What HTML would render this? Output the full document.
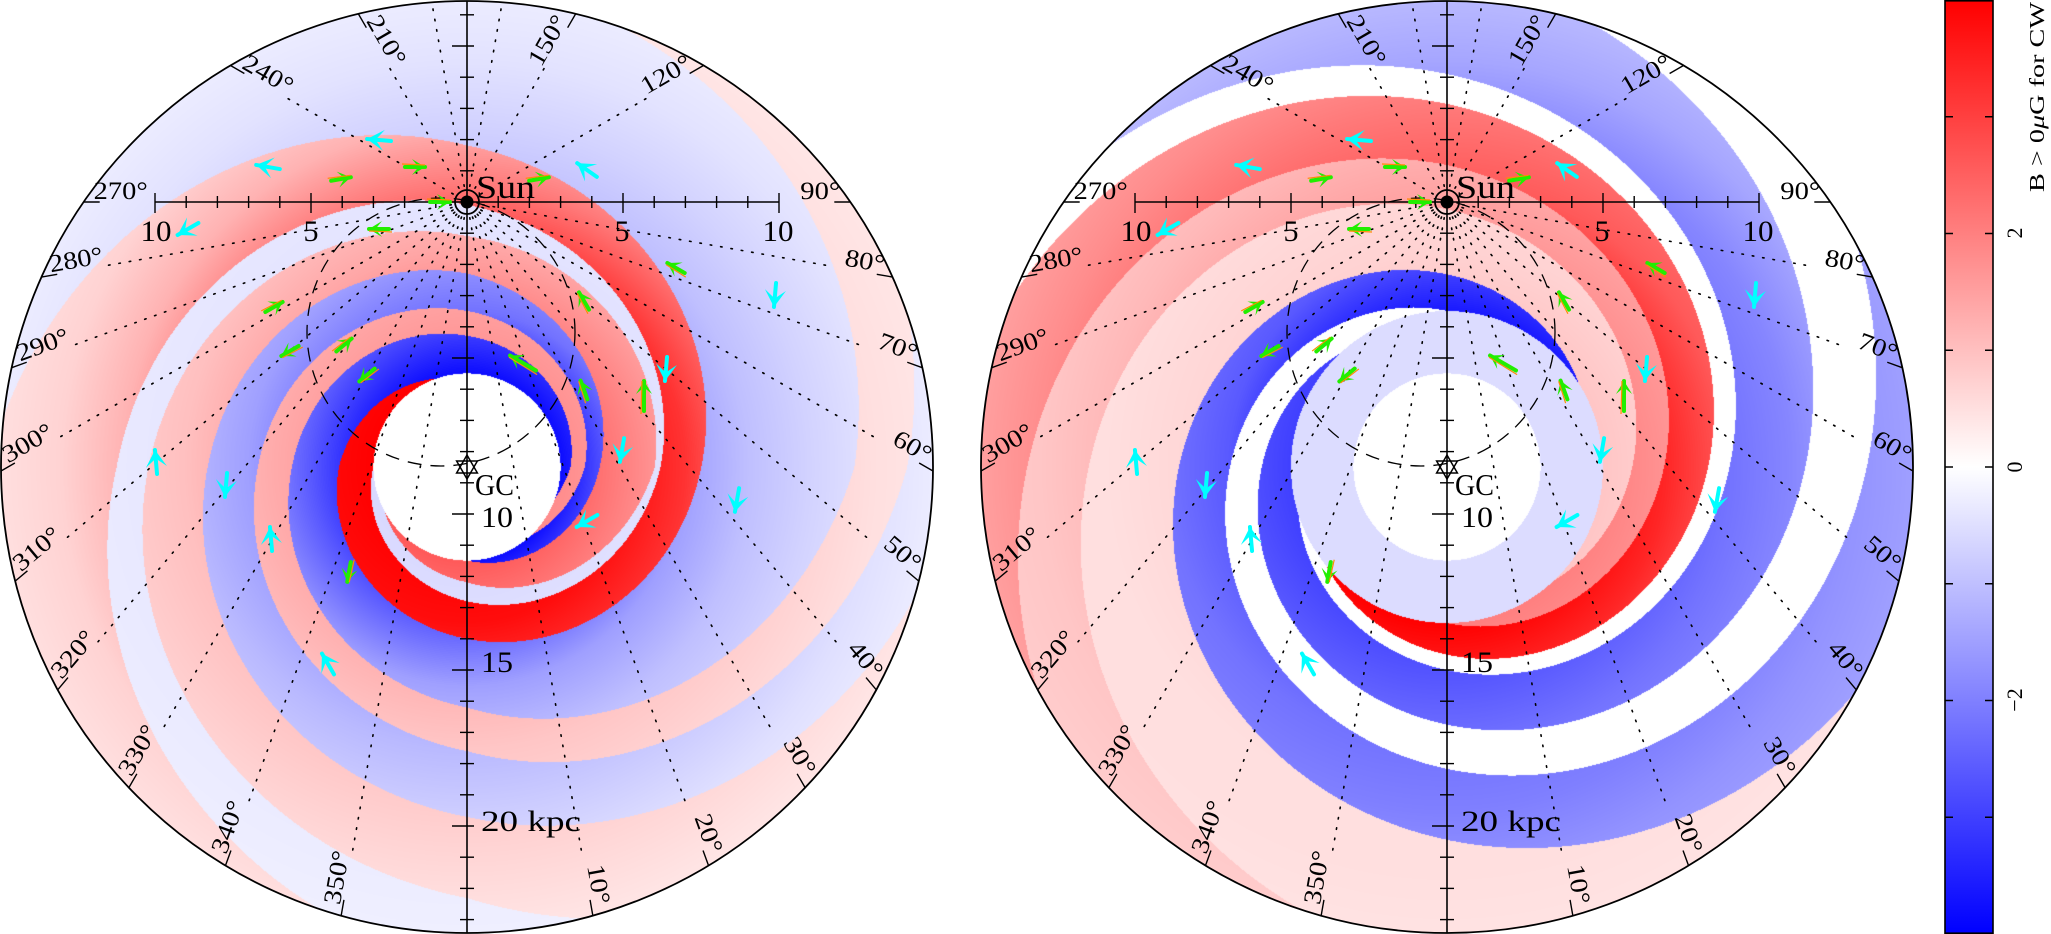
<!DOCTYPE html>
<html><head><meta charset="utf-8"><style>
html,body{margin:0;padding:0;background:#fff;width:2051px;height:934px;overflow:hidden}
#c{position:absolute;left:0;top:0}
svg{position:absolute;left:0;top:0}
text{font-family:"Liberation Serif","DejaVu Serif",serif;fill:#000}
.d{font-size:25px}
.n{font-size:30px}
</style></head><body>
<canvas id="c" width="2051" height="934"></canvas>
<svg id="s" width="2051" height="934" viewBox="0 0 2051 934">
<defs><linearGradient id="cb" x1="0" y1="0" x2="0" y2="1">
<stop offset="0" stop-color="#ff0000"/><stop offset="0.25" stop-color="#ff8080"/><stop offset="0.5" stop-color="#ffffff"/><stop offset="0.75" stop-color="#8080ff"/><stop offset="1" stop-color="#0000ff"/></linearGradient></defs>
<g id="ov"></g>
<g id="T1">
<text class="d" x="591.1" y="905.9" dy="-3" transform="rotate(80 591.1 905.9)" text-anchor="end" textLength="40" lengthAdjust="spacingAndGlyphs">10°</text>
<text class="d" x="705.1" y="856.1" dy="-3" transform="rotate(70 705.1 856.1)" text-anchor="end" textLength="40" lengthAdjust="spacingAndGlyphs">20°</text>
<text class="d" x="800.2" y="779" dy="-3" transform="rotate(60 800.2 779)" text-anchor="end" textLength="40" lengthAdjust="spacingAndGlyphs">30°</text>
<text class="d" x="869.9" y="682" dy="-3" transform="rotate(50 869.9 682)" text-anchor="end" textLength="40" lengthAdjust="spacingAndGlyphs">40°</text>
<text class="d" x="911" y="574.7" dy="-3" transform="rotate(40 911 574.7)" text-anchor="end" textLength="40" lengthAdjust="spacingAndGlyphs">50°</text>
<text class="d" x="924.3" y="466.1" dy="-3" transform="rotate(30 924.3 466.1)" text-anchor="end" textLength="40" lengthAdjust="spacingAndGlyphs">60°</text>
<text class="d" x="912.9" y="364.3" dy="-3" transform="rotate(20 912.9 364.3)" text-anchor="end" textLength="40" lengthAdjust="spacingAndGlyphs">70°</text>
<text class="d" x="882.7" y="275.3" dy="-3" transform="rotate(10 882.7 275.3)" text-anchor="end" textLength="40" lengthAdjust="spacingAndGlyphs">80°</text>
<text class="d" x="840.3" y="202" dy="-3" text-anchor="end" textLength="40" lengthAdjust="spacingAndGlyphs">90°</text>
<text class="d" x="694.8" y="70.4" dy="-3" transform="rotate(-30 694.8 70.4)" text-anchor="end" textLength="54" lengthAdjust="spacingAndGlyphs">120°</text>
<text class="d" x="570.7" y="22.5" dy="-3" transform="rotate(-60 570.7 22.5)" text-anchor="end" textLength="54" lengthAdjust="spacingAndGlyphs">150°</text>
<text class="d" x="363.3" y="22.5" dy="-3" transform="rotate(60 363.3 22.5)" textLength="54" lengthAdjust="spacingAndGlyphs">210°</text>
<text class="d" x="239.2" y="70.4" dy="-3" transform="rotate(30 239.2 70.4)" textLength="54" lengthAdjust="spacingAndGlyphs">240°</text>
<text class="d" x="93.7" y="202" dy="-3" textLength="54" lengthAdjust="spacingAndGlyphs">270°</text>
<text class="d" x="51.3" y="275.3" dy="-3" transform="rotate(-10 51.3 275.3)" textLength="54" lengthAdjust="spacingAndGlyphs">280°</text>
<text class="d" x="21.1" y="364.3" dy="-3" transform="rotate(-20 21.1 364.3)" textLength="54" lengthAdjust="spacingAndGlyphs">290°</text>
<text class="d" x="9.7" y="466.1" dy="-3" transform="rotate(-30 9.7 466.1)" textLength="54" lengthAdjust="spacingAndGlyphs">300°</text>
<text class="d" x="23" y="574.7" dy="-3" transform="rotate(-40 23 574.7)" textLength="54" lengthAdjust="spacingAndGlyphs">310°</text>
<text class="d" x="64.1" y="682" dy="-3" transform="rotate(-50 64.1 682)" textLength="54" lengthAdjust="spacingAndGlyphs">320°</text>
<text class="d" x="133.8" y="779" dy="-3" transform="rotate(-60 133.8 779)" textLength="54" lengthAdjust="spacingAndGlyphs">330°</text>
<text class="d" x="228.9" y="856.1" dy="-3" transform="rotate(-70 228.9 856.1)" textLength="54" lengthAdjust="spacingAndGlyphs">340°</text>
<text class="d" x="342.9" y="905.9" dy="-3" transform="rotate(-80 342.9 905.9)" textLength="54" lengthAdjust="spacingAndGlyphs">350°</text>
<text class="n" x="156" y="241" text-anchor="middle" textLength="31" lengthAdjust="spacingAndGlyphs">10</text>
<text class="n" x="311" y="241" text-anchor="middle">5</text>
<text class="n" x="622" y="241" text-anchor="middle">5</text>
<text class="n" x="778" y="241" text-anchor="middle" textLength="31" lengthAdjust="spacingAndGlyphs">10</text>
<text class="n" x="481" y="527" textLength="32" lengthAdjust="spacingAndGlyphs">10</text>
<text class="n" x="481" y="672" textLength="32" lengthAdjust="spacingAndGlyphs">15</text>
<text class="n" x="481" y="831" textLength="100" lengthAdjust="spacingAndGlyphs">20 kpc</text>
<text x="476" y="198" font-size="33" textLength="59" lengthAdjust="spacingAndGlyphs">Sun</text>
<text x="475" y="495" font-size="31" textLength="39" lengthAdjust="spacingAndGlyphs">GC</text>
</g>
<g transform="translate(980,0)">
<text class="d" x="591.1" y="905.9" dy="-3" transform="rotate(80 591.1 905.9)" text-anchor="end" textLength="40" lengthAdjust="spacingAndGlyphs">10°</text>
<text class="d" x="705.1" y="856.1" dy="-3" transform="rotate(70 705.1 856.1)" text-anchor="end" textLength="40" lengthAdjust="spacingAndGlyphs">20°</text>
<text class="d" x="800.2" y="779" dy="-3" transform="rotate(60 800.2 779)" text-anchor="end" textLength="40" lengthAdjust="spacingAndGlyphs">30°</text>
<text class="d" x="869.9" y="682" dy="-3" transform="rotate(50 869.9 682)" text-anchor="end" textLength="40" lengthAdjust="spacingAndGlyphs">40°</text>
<text class="d" x="911" y="574.7" dy="-3" transform="rotate(40 911 574.7)" text-anchor="end" textLength="40" lengthAdjust="spacingAndGlyphs">50°</text>
<text class="d" x="924.3" y="466.1" dy="-3" transform="rotate(30 924.3 466.1)" text-anchor="end" textLength="40" lengthAdjust="spacingAndGlyphs">60°</text>
<text class="d" x="912.9" y="364.3" dy="-3" transform="rotate(20 912.9 364.3)" text-anchor="end" textLength="40" lengthAdjust="spacingAndGlyphs">70°</text>
<text class="d" x="882.7" y="275.3" dy="-3" transform="rotate(10 882.7 275.3)" text-anchor="end" textLength="40" lengthAdjust="spacingAndGlyphs">80°</text>
<text class="d" x="840.3" y="202" dy="-3" text-anchor="end" textLength="40" lengthAdjust="spacingAndGlyphs">90°</text>
<text class="d" x="694.8" y="70.4" dy="-3" transform="rotate(-30 694.8 70.4)" text-anchor="end" textLength="54" lengthAdjust="spacingAndGlyphs">120°</text>
<text class="d" x="570.7" y="22.5" dy="-3" transform="rotate(-60 570.7 22.5)" text-anchor="end" textLength="54" lengthAdjust="spacingAndGlyphs">150°</text>
<text class="d" x="363.3" y="22.5" dy="-3" transform="rotate(60 363.3 22.5)" textLength="54" lengthAdjust="spacingAndGlyphs">210°</text>
<text class="d" x="239.2" y="70.4" dy="-3" transform="rotate(30 239.2 70.4)" textLength="54" lengthAdjust="spacingAndGlyphs">240°</text>
<text class="d" x="93.7" y="202" dy="-3" textLength="54" lengthAdjust="spacingAndGlyphs">270°</text>
<text class="d" x="51.3" y="275.3" dy="-3" transform="rotate(-10 51.3 275.3)" textLength="54" lengthAdjust="spacingAndGlyphs">280°</text>
<text class="d" x="21.1" y="364.3" dy="-3" transform="rotate(-20 21.1 364.3)" textLength="54" lengthAdjust="spacingAndGlyphs">290°</text>
<text class="d" x="9.7" y="466.1" dy="-3" transform="rotate(-30 9.7 466.1)" textLength="54" lengthAdjust="spacingAndGlyphs">300°</text>
<text class="d" x="23" y="574.7" dy="-3" transform="rotate(-40 23 574.7)" textLength="54" lengthAdjust="spacingAndGlyphs">310°</text>
<text class="d" x="64.1" y="682" dy="-3" transform="rotate(-50 64.1 682)" textLength="54" lengthAdjust="spacingAndGlyphs">320°</text>
<text class="d" x="133.8" y="779" dy="-3" transform="rotate(-60 133.8 779)" textLength="54" lengthAdjust="spacingAndGlyphs">330°</text>
<text class="d" x="228.9" y="856.1" dy="-3" transform="rotate(-70 228.9 856.1)" textLength="54" lengthAdjust="spacingAndGlyphs">340°</text>
<text class="d" x="342.9" y="905.9" dy="-3" transform="rotate(-80 342.9 905.9)" textLength="54" lengthAdjust="spacingAndGlyphs">350°</text>
<text class="n" x="156" y="241" text-anchor="middle" textLength="31" lengthAdjust="spacingAndGlyphs">10</text>
<text class="n" x="311" y="241" text-anchor="middle">5</text>
<text class="n" x="622" y="241" text-anchor="middle">5</text>
<text class="n" x="778" y="241" text-anchor="middle" textLength="31" lengthAdjust="spacingAndGlyphs">10</text>
<text class="n" x="481" y="527" textLength="32" lengthAdjust="spacingAndGlyphs">10</text>
<text class="n" x="481" y="672" textLength="32" lengthAdjust="spacingAndGlyphs">15</text>
<text class="n" x="481" y="831" textLength="100" lengthAdjust="spacingAndGlyphs">20 kpc</text>
<text x="476" y="198" font-size="33" textLength="59" lengthAdjust="spacingAndGlyphs">Sun</text>
<text x="475" y="495" font-size="31" textLength="39" lengthAdjust="spacingAndGlyphs">GC</text>
</g>
<rect x="1945" y="0.8" width="48" height="932.4" fill="url(#cb)" stroke="#000" stroke-width="1.6"/>
<g id="cbt" stroke="#000" stroke-width="1.5"></g>
<text x="2022" y="233" font-size="22" text-anchor="middle" transform="rotate(-90 2022 233)">2</text>
<text x="2022" y="467" font-size="22" text-anchor="middle" transform="rotate(-90 2022 467)">0</text>
<text x="2022" y="700" font-size="22" text-anchor="middle" transform="rotate(-90 2022 700)">−2</text>
<text x="2044" y="192" font-size="21" transform="rotate(-90 2044 192)" textLength="190" lengthAdjust="spacingAndGlyphs">B &gt; 0<tspan font-style="italic">μ</tspan>G for CW</text>
</svg>
<script>
(function(){
var W=2051,H=934,cv=document.getElementById('c'),ctx=cv.getContext('2d');
var img=ctx.createImageData(W,H),d=img.data;
for(var i=0;i<d.length;i++)d[i]=255;
var K=0.21,P=2*Math.PI*K,S=31.2,R=466;
function tb(a,r){var i=(r-3)/2;if(i<=0)return a[0];if(i>=6)return a[6];var k=Math.floor(i),f=i-k;return a[k]*(1-f)+a[k+1]*f;}
var LS=[[.333,.570,.807,.942,1.105,1.261],[.363,.518,.838,.970,1.133,1.267],[.383,.528,.909,1.006,1.097,1.36],[.356,.543,.798,.924,1.082,1.240],[.333,.570,.807,.942,1.105,1.261]];
var LA=[[4,3.8,3.2,2.1,1.2,.7,.5],[-3.8,-2.6,-1.5,-1,-.7,-.45,-.3],[1.8,1.5,1.2,.9,.7,.5,.4],[-3.8,-2.2,-1.5,-1.1,-.8,-.5,-.3],[2.6,2,1.4,1,.8,.6,.4],[-.6,-.5,-.45,-.4,-.35,-.3,-.25]];
var RSt=[.47,.61,.67,.85,.97,1.13,1.35];
var RA=[[4,4,3.4,2.6,2.2,1.8,1.5],[0,0,0,0,0,0,0],[-3,-3,-2.6,-2.2,-1.9,-1.4,-1.1],[0,0,0,0,0,0,0],[-3.6,-3.6,-2.6,-2.2,-2,-1.7,-1.5],[.9,.9,.7,.6,.5,.5,.45],[2,2,1.7,1.4,1.1,.9,.8]];
function startsL(th){var u=(th+Math.PI)/(Math.PI/2);var k=Math.min(3,Math.floor(u)),f=u-k;var a=LS[k],b=LS[k+1],o=[];for(var j=0;j<6;j++)o.push(a[j]*(1-f)+b[j]*f);return o;}
function val(type,dx,dy){
 var r=Math.sqrt(dx*dx+dy*dy)/S;if(r<3)return null;
 if(type==1&&r<5)return -0.55;
 var th=Math.atan2(dy,dx),u=(Math.log(r)+K*th)/P;
 var st=type==0?startsL(th):RSt,am=type==0?LA:RA;
 var t=u-Math.floor(u-st[0]),j=0;
 for(var m=1;m<st.length;m++)if(t>=st[m])j=m;
 return tb(am[j],r);
}
[[467,0],[1447,1]].forEach(function(p){
 var cx=p[0],cy=467,type=p[1];
 for(var y=0;y<H;y++){var dy=y+.5-cy;if(Math.abs(dy)>R)continue;var hw=Math.sqrt(R*R-dy*dy);
  for(var x=Math.max(0,Math.floor(cx-hw));x<=Math.min(W-1,Math.ceil(cx+hw));x++){
   var dx=x+.5-cx;if(dx*dx+dy*dy>R*R)continue;
   var v=val(type,dx,dy);if(v===null||v===0)continue;
   var a=Math.min(Math.abs(v)/4,1),c=Math.round(255*(1-a)),q=(y*W+x)*4;
   if(v>0){d[q]=255;d[q+1]=c;d[q+2]=c;}else{d[q]=c;d[q+1]=c;d[q+2]=255;}
  }}
});
ctx.putImageData(img,0,0);

var NS='http://www.w3.org/2000/svg',ov=document.getElementById('ov');
function el(n,at,par){var e=document.createElementNS(NS,n);for(var k in at)e.setAttribute(k,at[k]);(par||ov).appendChild(e);return e;}
function ln(x1,y1,x2,y2,w,extra,par){var a={x1:x1,y1:y1,x2:x2,y2:y2,stroke:'#000','stroke-width':w||1.5};for(var k in extra)a[k]=extra[k];return el('line',a,par);}
function arrow(x,y,ang,col,len,ov2,hs){
 var a=ang*Math.PI/180,c=Math.cos(a),s=Math.sin(a),L=len||22;
 var tx=x+c*L/2,ty=y+s*L/2,bx=x-c*L/2,by=y-s*L/2;
 ln(bx,by,tx,ty,4,{stroke:col,'stroke-linecap':'round'});
 var h=hs||14,w=h*0.62;
 el('polygon',{points:tx+','+ty+' '+(tx-c*h-s*w)+','+(ty-s*h+c*w)+' '+(tx-c*h*0.5)+','+(ty-s*h*0.5)+' '+(tx-c*h+s*w)+','+(ty-s*h-c*w),fill:col});
 if(ov2)ln(bx-c*3+s*3,by-s*3-c*3,tx+s*2,ty-c*2,1.2,{stroke:'#ff8c00'});
}
var labs=[10,20,30,40,50,60,70,80,120,150,170,190,210,240,280,290,300,310,320,330,340,350];
[467,1447].forEach(function(cx){
 var sy=202,cy=467;
 labs.forEach(function(l){
  var s=Math.sin(l*Math.PI/180),c=Math.cos(l*Math.PI/180);
  var b=265*c,t=b+Math.sqrt(b*b+146931);
  var px=cx+t*s,py=sy+t*c;
  var stop=(l==170||l==190)?t:t-62;
  ln(cx+s*16,sy+c*16,cx+stop*s,sy+stop*c,1.6,{'stroke-dasharray':'1.5 9','stroke-linecap':'round'});
  if(l!=170&&l!=190)ln(px-16*s,py-16*c,px,py,1.4);
 });
 [90,270].forEach(function(l){var s=l==90?1:-1;var px=cx+s*383.3;ln(px-16*s,sy,px,sy,1.4);});
 el('circle',{cx:cx-26,cy:332,r:134,fill:'none',stroke:'#000','stroke-width':1.3,'stroke-dasharray':'14 9'});
 ln(cx-312,sy,cx+312,sy,1.6);
 ln(cx,1,cx,933,1.6);
 for(var n=-10;n<=10;n++){if(!n)continue;var x=cx+n*31.2;var mj=(Math.abs(n)%5==0);ln(x,sy-(mj?9:6),x,sy+(mj?11:6),1.4);}
 for(var n=-6;n<=23;n++){if(!n)continue;var y=sy+n*31.2;if(y<4||y>930)continue;var mj=(n%5==0);ln(cx-(mj?15:7),y,cx+7,y,1.4);}
 el('circle',{cx:cx,cy:cy,r:R,fill:'none',stroke:'#000','stroke-width':1.8});
 el('circle',{cx:cx,cy:sy,r:12,fill:'none',stroke:'#000','stroke-width':1.8});
 el('circle',{cx:cx,cy:sy,r:6.5,fill:'#000'});
 var r=12,p1=[],p2=[];for(var k=0;k<3;k++){var a=(-90+k*120)*Math.PI/180;p1.push((cx+r*Math.cos(a))+','+(cy+r*Math.sin(a)));var b=(90+k*120)*Math.PI/180;p2.push((cx+r*Math.cos(b))+','+(cy+r*Math.sin(b)));}
 el('polygon',{points:p1.join(' '),fill:'none',stroke:'#000','stroke-width':1.5});
 el('polygon',{points:p2.join(' '),fill:'none',stroke:'#000','stroke-width':1.5});
 var o=cx-467,cy2='#00ffff',g='#22ee00';
 var cyan=[[379,140,185],[268,167,190],[587,170,215],[188,229,150],[775,295,95],[666,369,95],[622,450,100],[737,500,100],[587,521,150],[156,462,-95],[226,485,95],[271,539,-95],[328,664,-120]];
 cyan.forEach(function(a){arrow(a[0]+o,a[1],a[2],cy2,24,false,17);});
 var gr=[[415,167,0],[341,179,-10],[539,179,-10],[440,202,0],[379,229,180],[676,268,-150],[584,301,-120],[274,307,-30],[290,351,150],[344,345,-40],[367,375,140],[523,363,-150,30],[584,390,-110],[644,396,-90,30],[349,572,100]];
 gr.forEach(function(a){arrow(a[0]+o,a[1],a[2],g,a[3]||20,true,13);});
});
var cb=document.getElementById('cbt');
for(var v=-3;v<=3;v++){var y=467-v*116.75;ln(1945,y,1953,y,1.5,{},cb);ln(1985,y,1993,y,1.5,{},cb);}
})();
</script>
</body></html>
